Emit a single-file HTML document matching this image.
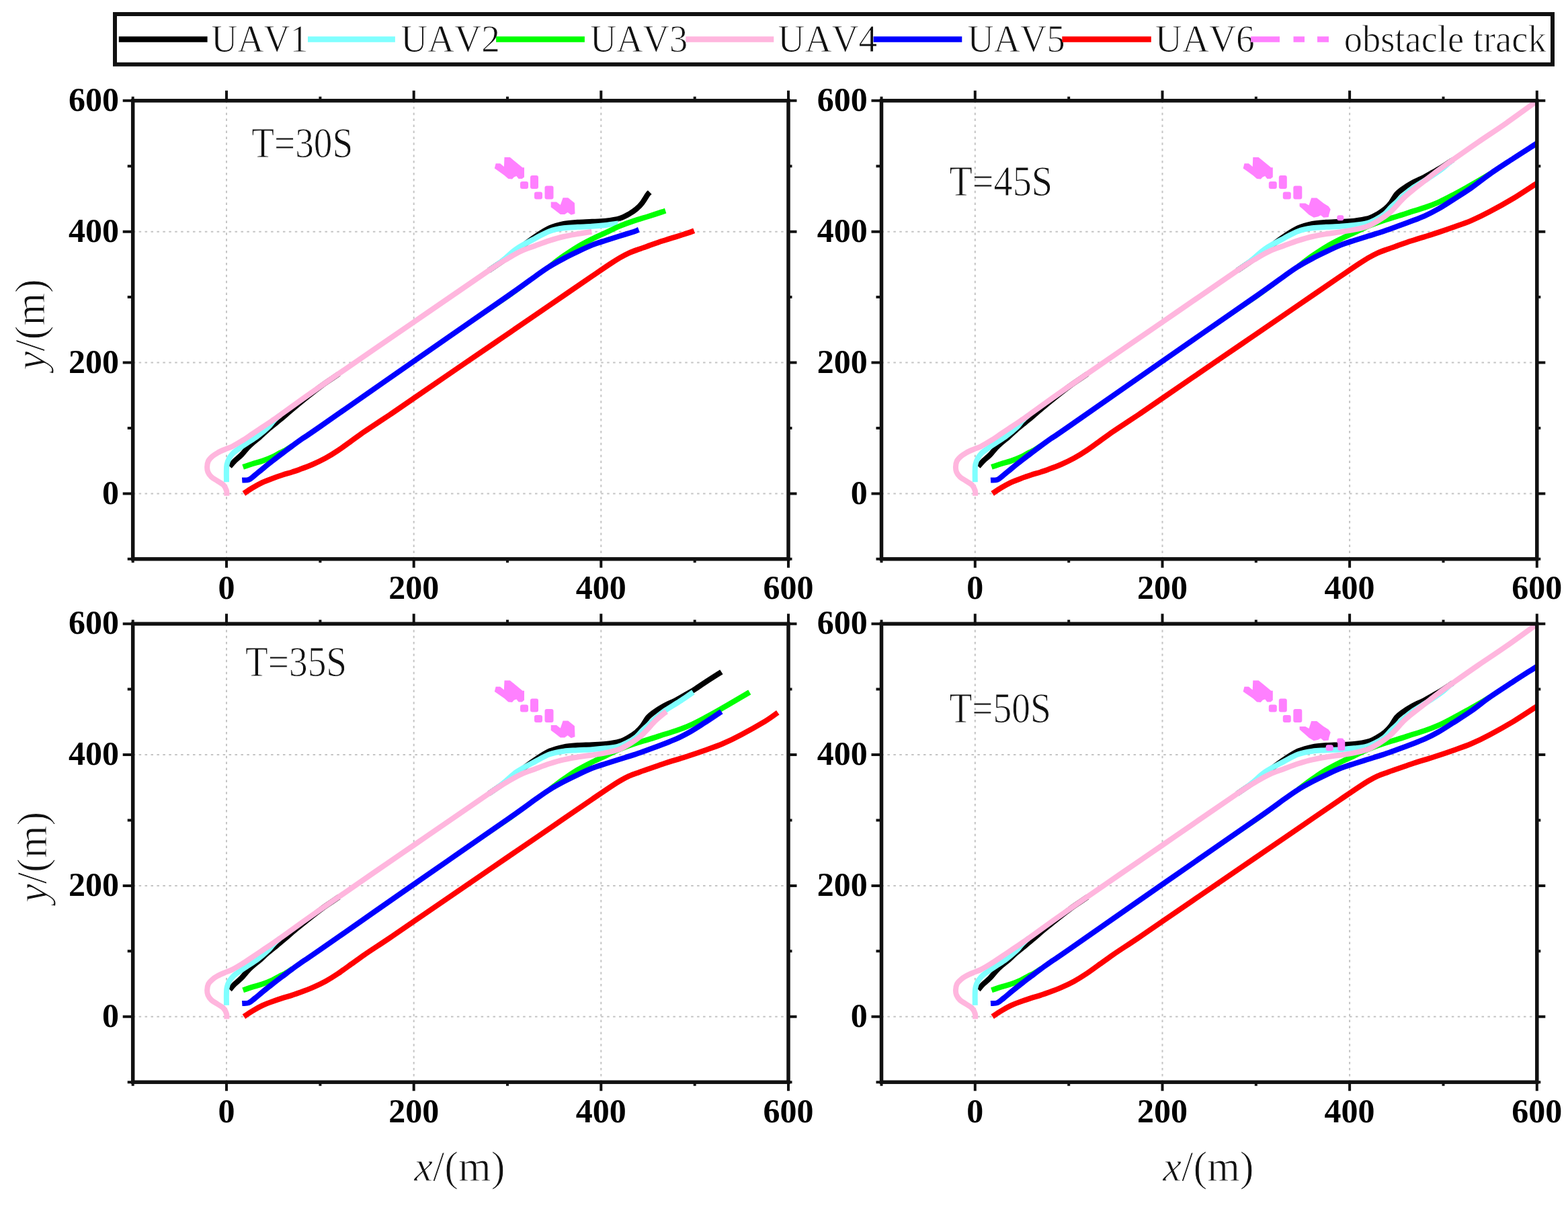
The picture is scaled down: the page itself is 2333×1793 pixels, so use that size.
<!DOCTYPE html>
<html><head><meta charset="utf-8"><title>UAV trajectories</title><style>
html,body{margin:0;padding:0;background:#fff;}
svg{display:block;}
text{font-family:"Liberation Serif","Times New Roman",serif;fill:#000;font-kerning:none;}
.tl{font-size:50px;font-weight:bold;}
.lg{font-size:57px;fill:#111;stroke:#fff;stroke-width:1.0px;}
.tt{font-size:64px;fill:#111;stroke:#fff;stroke-width:1.0px;}
.at{font-size:62.5px;fill:#111;stroke:#fff;stroke-width:1.0px;}
</style></head><body>
<svg width="2333" height="1793" viewBox="0 0 2333 1793">
<defs><clipPath id="clip"><rect x="0" y="0" width="975.3" height="682.0"/></clipPath></defs>
<rect width="2333" height="1793" fill="#ffffff"/>
<rect x="171" y="21" width="2139" height="74.8" fill="none" stroke="#111111" stroke-width="6"/>
<line x1="176.8" y1="58.5" x2="308.6" y2="58.5" stroke="#000000" stroke-width="8.5"/>
<text x="314.3" y="77.4" class="lg" textLength="144.3" lengthAdjust="spacingAndGlyphs">UAV1</text>
<line x1="458.0" y1="58.5" x2="587.9" y2="58.5" stroke="#80ffff" stroke-width="8.5"/>
<text x="596.3" y="77.4" class="lg" textLength="147.5" lengthAdjust="spacingAndGlyphs">UAV2</text>
<line x1="738.1" y1="58.5" x2="869.9" y2="58.5" stroke="#00ff00" stroke-width="8.5"/>
<text x="878.0" y="77.4" class="lg" textLength="145.1" lengthAdjust="spacingAndGlyphs">UAV3</text>
<line x1="1020.3" y1="58.5" x2="1151.3" y2="58.5" stroke="#ffb6de" stroke-width="8.5"/>
<text x="1157.3" y="77.4" class="lg" textLength="148.1" lengthAdjust="spacingAndGlyphs">UAV4</text>
<line x1="1299.6" y1="58.5" x2="1431.3" y2="58.5" stroke="#0000ff" stroke-width="8.5"/>
<text x="1439.5" y="77.4" class="lg" textLength="145.1" lengthAdjust="spacingAndGlyphs">UAV5</text>
<line x1="1580.3" y1="58.5" x2="1712.8" y2="58.5" stroke="#ff0000" stroke-width="8.5"/>
<text x="1718.8" y="77.4" class="lg" textLength="148.1" lengthAdjust="spacingAndGlyphs">UAV6</text>
<line x1="1861.0" y1="58.5" x2="1904.0" y2="58.5" stroke="#ff80ff" stroke-width="8.5"/>
<line x1="1924.5" y1="58.5" x2="1941.0" y2="58.5" stroke="#ff80ff" stroke-width="8.5"/>
<line x1="1960.0" y1="58.5" x2="1977.0" y2="58.5" stroke="#ff80ff" stroke-width="8.5"/>
<text x="1999.7" y="76.6" class="lg" textLength="301.0" lengthAdjust="spacingAndGlyphs">obstacle track</text>
<g transform="translate(197.7,149.8)">
<line x1="139.3" y1="0" x2="139.3" y2="682.0" stroke="#c4c4c4" stroke-width="2" stroke-dasharray="3.5 5.43"/>
<line x1="0" y1="584.6" x2="975.3" y2="584.6" stroke="#c4c4c4" stroke-width="2" stroke-dasharray="3.5 5.43"/>
<line x1="418.0" y1="0" x2="418.0" y2="682.0" stroke="#c4c4c4" stroke-width="2" stroke-dasharray="3.5 5.43"/>
<line x1="0" y1="389.7" x2="975.3" y2="389.7" stroke="#c4c4c4" stroke-width="2" stroke-dasharray="3.5 5.43"/>
<line x1="696.6" y1="0" x2="696.6" y2="682.0" stroke="#c4c4c4" stroke-width="2" stroke-dasharray="3.5 5.43"/>
<line x1="0" y1="194.9" x2="975.3" y2="194.9" stroke="#c4c4c4" stroke-width="2" stroke-dasharray="3.5 5.43"/>
<g clip-path="url(#clip)" fill="none" stroke-width="8" stroke-linejoin="round" stroke-linecap="butt">
<path d="M144.1,544.3 C145.3,543.0 148.3,539.2 151.2,536.3 C154.1,533.5 158.3,530.4 161.5,527.1 C164.7,523.8 167.7,519.6 170.4,516.7 C173.1,513.7 174.7,512.3 177.8,509.6 C180.9,506.8 185.3,503.5 189.1,500.3 C192.8,497.0 195.9,493.8 200.2,490.1 C204.6,486.3 210.9,481.4 215.1,477.9 C219.4,474.4 220.9,473.2 225.7,469.1 C230.5,465.1 235.0,460.7 243.8,453.5 C252.6,446.3 267.9,433.8 278.4,426.0 C288.8,418.1 283.3,422.5 306.5,406.4" stroke="#000000"/>
<path d="M306.5,406.4 C329.8,390.3 380.8,355.0 418.0,329.4 C455.1,303.8 506.1,268.9 529.4,252.8" stroke="#000000" stroke-width="5"/>
<path d="M529.4,252.8 C552.8,236.7 550.2,238.8 558.3,232.9 C566.4,226.9 571.4,222.4 578.2,217.3 C585.0,212.1 592.1,206.6 599.1,202.0 C606.1,197.3 613.1,192.5 620.2,189.3 C627.2,186.2 634.2,184.5 641.2,183.1 C648.1,181.7 654.8,181.4 661.8,180.9 C668.8,180.4 676.3,180.4 683.3,180.0 C690.2,179.7 696.8,179.6 703.6,178.8 C710.4,178.0 718.4,176.9 724.2,175.2 C730.0,173.5 734.2,171.0 738.4,168.6 C742.7,166.1 746.3,163.5 749.6,160.8 C752.8,158.0 755.2,155.6 757.9,152.0 C760.7,148.4 764.3,141.9 766.2,139.3 C768.0,136.7 768.6,136.9 769.1,136.4" stroke="#000000"/>
<path d="M139.3,567.5 C139.3,565.0 139.1,556.8 139.2,552.4 C139.3,548.0 139.1,544.7 139.9,541.2 C140.6,537.7 142.0,534.4 143.6,531.6 C145.3,528.7 146.9,526.6 149.5,524.1 C152.1,521.6 155.8,519.1 159.3,516.7 C162.7,514.2 166.1,512.1 170.4,509.2 C174.7,506.3 180.0,503.3 185.3,499.3 C190.6,495.3 196.5,490.4 202.0,485.2 C207.6,480.0 206.0,478.1 218.7,468.1" stroke="#80ffff"/>
<path d="M218.7,468.1 C231.5,458.2 245.2,448.7 278.4,425.6 C311.6,402.4 376.1,358.2 418.0,329.4 C459.8,300.6 507.4,268.1 529.4,252.8" stroke="#80ffff" stroke-width="5"/>
<path d="M529.4,252.8 C551.5,237.5 543.4,243.2 550.3,237.7 C557.3,232.3 563.1,225.7 571.2,220.2 C579.4,214.7 591.0,209.0 599.1,204.7 C607.3,200.3 613.1,196.6 620.2,194.1 C627.2,191.5 634.2,190.5 641.2,189.5 C648.1,188.5 654.8,188.5 661.8,188.0 C668.8,187.6 676.3,187.5 683.3,187.0 C690.2,186.5 697.3,185.8 703.6,185.1 C709.9,184.4 718.1,183.1 721.2,182.7 C724.2,182.3 721.6,182.6 721.7,182.6" stroke="#80ffff"/>
<path d="M163.9,545.1 C166.2,544.3 173.0,541.9 177.8,540.4 C182.6,538.9 187.7,537.8 192.7,536.1 C197.7,534.3 203.3,532.1 207.6,530.1 C211.9,528.1 215.7,525.6 218.7,524.1 C221.8,522.5 222.6,522.5 225.7,520.8 C228.8,519.0 233.0,516.5 237.4,513.4" stroke="#00ff00"/>
<path d="M237.4,513.4 C241.9,510.4 245.5,507.5 252.3,502.7 C259.2,498.0 250.8,504.3 278.4,485.1 C306.0,465.9 371.3,419.8 418.0,387.7 C464.6,355.5 528.1,313.3 558.3,292.3 C588.5,271.2 588.8,268.9 599.1,261.3 C609.4,253.7 615.0,250.3 620.2,246.6" stroke="#00ff00" stroke-width="5"/>
<path d="M620.2,246.6 C625.3,242.9 626.3,241.8 629.8,239.2 C633.3,236.6 635.8,234.5 641.2,230.8 C646.5,227.2 654.8,221.4 661.8,217.3 C668.8,213.1 676.3,209.3 683.3,205.8 C690.2,202.3 696.7,199.5 703.6,196.3 C710.5,193.1 717.5,189.5 724.5,186.6 C731.5,183.7 738.5,181.1 745.4,178.8 C752.4,176.4 759.2,174.6 766.2,172.4 C773.1,170.3 782.8,167.1 787.2,165.6 C791.6,164.2 791.5,164.0 792.4,163.7" stroke="#00ff00"/>
<path d="M139.6,588.0 C139.6,586.7 140.1,582.9 139.3,580.2 C138.5,577.5 137.0,574.2 134.7,571.8 C132.5,569.4 128.8,567.8 125.8,565.8 C122.8,563.8 119.1,562.0 116.8,559.8 C114.4,557.6 112.6,554.9 111.6,552.4 C110.6,549.9 110.4,547.6 110.5,544.9 C110.6,542.2 111.0,538.7 112.3,536.1 C113.6,533.5 116.0,531.3 118.3,529.3 C120.5,527.3 122.7,525.8 125.8,524.1 C128.9,522.3 133.2,520.5 137.0,518.9 C140.7,517.3 143.8,516.6 148.1,514.4 C152.4,512.2 158.1,508.7 163.0,505.7 C168.0,502.6 172.8,499.2 177.8,495.9 C182.7,492.6 187.7,489.2 192.7,485.9 C197.7,482.5 203.3,478.9 207.6,475.9 C211.9,473.0 206.9,476.5 218.7,468.1 C230.5,459.7 245.2,448.7 278.4,425.6 C311.6,402.4 376.1,358.2 418.0,329.4 C459.8,300.6 506.1,268.6 529.4,252.8 C552.8,237.0 550.2,239.4 558.3,234.5 C566.4,229.6 571.4,226.7 578.2,223.6 C585.0,220.5 592.1,218.3 599.1,215.7 C606.1,213.1 613.1,210.4 620.2,208.1 C627.2,205.9 634.2,203.8 641.2,202.2 C648.1,200.5 654.9,199.5 661.8,198.3 C668.7,197.0 679.2,195.4 682.7,194.9" stroke="#ffb6de"/>
<path d="M162.5,564.7 C164.2,564.6 169.4,565.2 172.6,563.9 C175.8,562.7 178.2,559.9 181.5,557.3 C184.9,554.6 188.3,551.6 192.7,548.0 C197.0,544.5 202.6,539.9 207.6,536.1 C212.6,532.2 217.5,528.4 222.5,524.7 C227.5,520.9 232.4,517.1 237.4,513.4 C242.4,509.8 245.5,507.5 252.3,502.7 C259.2,498.0 250.8,504.3 278.4,485.1 C306.0,465.9 371.3,420.1 418.0,387.7 C464.6,355.2 528.1,311.4 558.3,290.3 C588.5,269.2 588.8,268.4 599.1,261.1 C609.4,253.8 613.1,251.0 620.2,246.6 C627.2,242.2 634.2,238.5 641.2,234.8 C648.1,231.1 654.8,227.9 661.8,224.6 C668.8,221.2 676.3,217.6 683.3,214.8 C690.2,212.1 696.8,210.2 703.6,208.0 C710.4,205.8 717.3,203.7 724.2,201.5 C731.2,199.3 740.7,196.4 745.4,194.9 C750.1,193.3 751.4,192.4 752.7,191.9" stroke="#0000ff"/>
<path d="M165.2,584.5 C167.3,583.1 173.2,578.9 177.8,576.2 C182.4,573.4 187.7,570.4 192.7,568.0 C197.7,565.7 202.6,563.9 207.6,562.1 C212.6,560.2 217.5,558.5 222.5,556.9 C227.5,555.3 233.1,553.8 237.4,552.4 C241.7,551.0 243.4,550.5 248.4,548.6 C253.4,546.8 261.2,544.0 267.5,541.2 C273.9,538.4 280.1,535.5 286.5,532.0 C292.8,528.5 299.2,524.5 305.5,520.3 C311.9,516.0 318.3,511.2 324.6,506.6 C331.0,502.1 337.4,497.4 343.7,493.0 C350.1,488.6 356.3,484.5 362.7,480.3 C369.0,476.1 372.5,473.9 381.8,467.7 C391.0,461.4 398.0,456.5 418.0,442.8 C438.0,429.1 478.4,401.4 501.6,385.5 C524.8,369.6 537.6,360.9 557.3,347.4 C577.1,333.9 599.1,318.8 620.0,304.5 C640.9,290.1 667.6,271.8 682.7,261.5 C697.8,251.2 703.6,247.2 710.6,242.6 C717.5,238.0 719.9,236.5 724.5,233.8 C729.2,231.1 733.8,228.6 738.4,226.5 C743.1,224.4 747.7,222.9 752.4,221.2 C757.0,219.5 760.5,218.3 766.3,216.3 C772.1,214.3 780.2,211.3 787.2,209.0 C794.2,206.7 801.1,204.6 808.1,202.5 C815.1,200.3 824.5,197.3 829.0,195.8 C833.5,194.3 834.0,193.8 835.0,193.4" stroke="#ff0000"/>
</g>
<polygon points="540.0,93.5 546.4,93.5 552.2,98.3 552.8,84.2 561.1,84.2 579.7,99.5 582.3,99.5 582.3,113.6 579.1,116.2 573.9,116.2 570.7,112.3 567.2,113.6 564.3,116.8 558.6,116.2 552.8,111.1 543.8,104.7 538.1,100.8" fill="#ff80ff"/>
<rect x="576.3" y="120.3" width="12.0" height="11.0" rx="3" fill="#ff80ff"/>
<rect x="591.3" y="111.2" width="12.0" height="20.0" rx="3" fill="#ff80ff"/>
<rect x="597.3" y="135.7" width="12.0" height="11.0" rx="3" fill="#ff80ff"/>
<rect x="612.8" y="126.7" width="13.0" height="20.0" rx="3" fill="#ff80ff"/>
<polygon points="622.0,150.8 630.3,150.8 636.1,155.3 639.9,144.4 647.6,144.4 657.2,152.1 657.8,168.1 652.1,170.0 646.9,166.1 642.5,169.3 636.1,169.3 627.1,162.3 622.0,158.5" fill="#ff80ff"/>
<path d="M0.0,0 V-6.0 M0.0,682.0 V687.5 M0,682.0 H-8.0 M975.3,682.0 H980.8 M139.3,0 V-15.0 M139.3,682.0 V695.0 M0,584.6 H-15.0 M975.3,584.6 H987.8 M278.7,0 V-6.0 M278.7,682.0 V687.5 M0,487.1 H-8.0 M975.3,487.1 H980.8 M418.0,0 V-15.0 M418.0,682.0 V695.0 M0,389.7 H-15.0 M975.3,389.7 H987.8 M557.3,0 V-6.0 M557.3,682.0 V687.5 M0,292.3 H-8.0 M975.3,292.3 H980.8 M696.6,0 V-15.0 M696.6,682.0 V695.0 M0,194.9 H-15.0 M975.3,194.9 H987.8 M836.0,0 V-6.0 M836.0,682.0 V687.5 M0,97.4 H-8.0 M975.3,97.4 H980.8 M975.3,0 V-15.0 M975.3,682.0 V695.0 M0,0.0 H-15.0 M975.3,0.0 H987.8" stroke="#111111" stroke-width="4.0" fill="none"/>
<rect x="0" y="0" width="975.3" height="682.0" fill="none" stroke="#111111" stroke-width="5.5"/>
<text x="139.3" y="741.5" text-anchor="middle" class="tl">0</text>
<text x="418.0" y="741.5" text-anchor="middle" class="tl">200</text>
<text x="696.6" y="741.5" text-anchor="middle" class="tl">400</text>
<text x="975.3" y="741.5" text-anchor="middle" class="tl">600</text>
<text x="-20.7" y="599.8" text-anchor="end" class="tl">0</text>
<text x="-20.7" y="404.9" text-anchor="end" class="tl">200</text>
<text x="-20.7" y="210.1" text-anchor="end" class="tl">400</text>
<text x="-20.7" y="15.2" text-anchor="end" class="tl">600</text>
</g>
<text x="374.3" y="233.6" class="tt" textLength="150.9" lengthAdjust="spacingAndGlyphs">T=30S</text>
<g transform="translate(1311.5,149.8)">
<line x1="139.3" y1="0" x2="139.3" y2="682.0" stroke="#c4c4c4" stroke-width="2" stroke-dasharray="3.5 5.43"/>
<line x1="0" y1="584.6" x2="975.3" y2="584.6" stroke="#c4c4c4" stroke-width="2" stroke-dasharray="3.5 5.43"/>
<line x1="418.0" y1="0" x2="418.0" y2="682.0" stroke="#c4c4c4" stroke-width="2" stroke-dasharray="3.5 5.43"/>
<line x1="0" y1="389.7" x2="975.3" y2="389.7" stroke="#c4c4c4" stroke-width="2" stroke-dasharray="3.5 5.43"/>
<line x1="696.6" y1="0" x2="696.6" y2="682.0" stroke="#c4c4c4" stroke-width="2" stroke-dasharray="3.5 5.43"/>
<line x1="0" y1="194.9" x2="975.3" y2="194.9" stroke="#c4c4c4" stroke-width="2" stroke-dasharray="3.5 5.43"/>
<g clip-path="url(#clip)" fill="none" stroke-width="8" stroke-linejoin="round" stroke-linecap="butt">
<path d="M144.1,544.3 C145.3,543.0 148.3,539.2 151.2,536.3 C154.1,533.5 158.3,530.4 161.5,527.1 C164.7,523.8 167.7,519.6 170.4,516.7 C173.1,513.7 174.7,512.3 177.8,509.6 C180.9,506.8 185.3,503.5 189.1,500.3 C192.8,497.0 195.9,493.8 200.2,490.1 C204.6,486.3 210.9,481.4 215.1,477.9 C219.4,474.4 220.9,473.2 225.7,469.1 C230.5,465.1 235.0,460.7 243.8,453.5 C252.6,446.3 267.9,433.8 278.4,426.0 C288.8,418.1 283.3,422.5 306.5,406.4" stroke="#000000"/>
<path d="M306.5,406.4 C329.8,390.3 380.8,355.0 418.0,329.4 C455.1,303.8 506.1,268.9 529.4,252.8" stroke="#000000" stroke-width="5"/>
<path d="M529.4,252.8 C552.8,236.7 550.2,238.8 558.3,232.9 C566.4,226.9 571.4,222.4 578.2,217.3 C585.0,212.1 592.1,206.6 599.1,202.0 C606.1,197.3 613.1,192.5 620.2,189.3 C627.2,186.2 634.2,184.5 641.2,183.1 C648.1,181.7 654.8,181.4 661.8,180.9 C668.8,180.4 676.3,180.4 683.3,180.0 C690.2,179.7 696.8,179.6 703.6,178.8 C710.4,178.0 718.4,176.9 724.2,175.2 C730.0,173.5 734.2,171.0 738.4,168.6 C742.7,166.1 746.3,163.5 749.6,160.8 C752.8,158.0 755.2,155.6 757.9,152.0 C760.7,148.4 763.4,142.7 766.2,139.3 C769.0,136.0 770.7,134.9 774.7,132.0 C778.6,129.2 784.4,125.4 790.0,122.3 C795.6,119.2 802.9,116.2 808.1,113.5 C813.3,110.8 816.3,108.9 821.1,106.2 C825.8,103.5 831.7,100.2 836.5,97.1 C841.4,94.1 841.7,93.8 850.3,87.9" stroke="#000000"/>
<path d="M850.3,87.9 C858.9,81.9 874.9,70.5 888.2,61.4 C901.5,52.3 915.5,43.3 930.0,33.1 C944.5,23.0 966.4,6.9 975.3,0.5 C984.2,-5.9 982.3,-4.4 983.7,-5.4" stroke="#000000" stroke-width="5"/>
<path d="M139.3,567.5 C139.3,565.0 139.1,556.8 139.2,552.4 C139.3,548.0 139.1,544.7 139.9,541.2 C140.6,537.7 142.0,534.4 143.6,531.6 C145.3,528.7 146.9,526.6 149.5,524.1 C152.1,521.6 155.8,519.1 159.3,516.7 C162.7,514.2 166.1,512.1 170.4,509.2 C174.7,506.3 180.0,503.3 185.3,499.3 C190.6,495.3 196.5,490.4 202.0,485.2 C207.6,480.0 206.0,478.1 218.7,468.1" stroke="#80ffff"/>
<path d="M218.7,468.1 C231.5,458.2 245.2,448.7 278.4,425.6 C311.6,402.4 376.1,358.2 418.0,329.4 C459.8,300.6 507.4,268.1 529.4,252.8" stroke="#80ffff" stroke-width="5"/>
<path d="M529.4,252.8 C551.5,237.5 543.4,243.2 550.3,237.7 C557.3,232.3 563.1,225.7 571.2,220.2 C579.4,214.7 591.0,209.0 599.1,204.7 C607.3,200.3 613.1,196.6 620.2,194.1 C627.2,191.5 634.2,190.5 641.2,189.5 C648.1,188.5 654.8,188.5 661.8,188.0 C668.8,187.6 676.3,187.5 683.3,187.0 C690.2,186.5 697.3,185.8 703.6,185.1 C709.9,184.4 716.0,184.0 721.2,182.7 C726.4,181.4 730.2,179.6 734.8,177.2 C739.4,174.9 744.8,171.6 748.6,168.6 C752.5,165.5 755.0,161.7 757.9,158.8 C760.9,155.9 762.9,154.2 766.2,151.1 C769.4,148.0 773.4,143.8 777.5,140.3 C781.5,136.8 784.3,134.2 790.3,130.1 C796.3,125.9 806.3,120.2 813.5,115.5 C820.8,110.7 827.6,106.4 833.7,101.8 C839.9,97.2 841.2,94.6 850.3,87.9" stroke="#80ffff"/>
<path d="M850.3,87.9 C859.4,81.1 874.9,70.5 888.2,61.4 C901.5,52.3 915.5,43.3 930.0,33.1 C944.5,23.0 966.4,6.9 975.3,0.5 C984.2,-5.9 982.3,-4.4 983.7,-5.4" stroke="#80ffff" stroke-width="5"/>
<path d="M163.9,545.1 C166.2,544.3 173.0,541.9 177.8,540.4 C182.6,538.9 187.7,537.8 192.7,536.1 C197.7,534.3 203.3,532.1 207.6,530.1 C211.9,528.1 215.7,525.6 218.7,524.1 C221.8,522.5 222.6,522.5 225.7,520.8 C228.8,519.0 233.0,516.5 237.4,513.4" stroke="#00ff00"/>
<path d="M237.4,513.4 C241.9,510.4 245.5,507.5 252.3,502.7 C259.2,498.0 250.8,504.3 278.4,485.1 C306.0,465.9 371.3,419.8 418.0,387.7 C464.6,355.5 528.1,313.3 558.3,292.3 C588.5,271.2 588.8,268.9 599.1,261.3 C609.4,253.7 615.0,250.3 620.2,246.6" stroke="#00ff00" stroke-width="5"/>
<path d="M620.2,246.6 C625.3,242.9 626.3,241.8 629.8,239.2 C633.3,236.6 635.8,234.5 641.2,230.8 C646.5,227.2 654.8,221.4 661.8,217.3 C668.8,213.1 676.3,209.3 683.3,205.8 C690.2,202.3 696.7,199.5 703.6,196.3 C710.5,193.1 717.5,189.5 724.5,186.6 C731.5,183.7 738.5,181.1 745.4,178.8 C752.4,176.4 759.2,174.6 766.2,172.4 C773.1,170.3 780.2,167.9 787.2,165.6 C794.2,163.4 801.1,161.5 808.1,159.1 C815.1,156.7 822.0,154.1 829.0,151.0 C836.0,147.9 843.4,144.0 850.3,140.3 C857.3,136.6 861.7,134.3 870.8,129.1 C880.0,123.9 893.6,116.3 905.2,109.1" stroke="#00ff00"/>
<path d="M905.2,109.1 C916.8,101.9 928.8,93.4 940.5,85.7 C952.1,78.1 968.1,68.0 975.3,63.3 C982.5,58.7 982.3,58.9 983.7,58.0" stroke="#00ff00" stroke-width="5"/>
<path d="M139.6,588.0 C139.6,586.7 140.1,582.9 139.3,580.2 C138.5,577.5 137.0,574.2 134.7,571.8 C132.5,569.4 128.8,567.8 125.8,565.8 C122.8,563.8 119.1,562.0 116.8,559.8 C114.4,557.6 112.6,554.9 111.6,552.4 C110.6,549.9 110.4,547.6 110.5,544.9 C110.6,542.2 111.0,538.7 112.3,536.1 C113.6,533.5 116.0,531.3 118.3,529.3 C120.5,527.3 122.7,525.8 125.8,524.1 C128.9,522.3 133.2,520.5 137.0,518.9 C140.7,517.3 143.8,516.6 148.1,514.4 C152.4,512.2 158.1,508.7 163.0,505.7 C168.0,502.6 172.8,499.2 177.8,495.9 C182.7,492.6 187.7,489.2 192.7,485.9 C197.7,482.5 203.3,478.9 207.6,475.9 C211.9,473.0 206.9,476.5 218.7,468.1 C230.5,459.7 245.2,448.7 278.4,425.6 C311.6,402.4 376.1,358.2 418.0,329.4 C459.8,300.6 506.1,268.6 529.4,252.8 C552.8,237.0 550.2,239.4 558.3,234.5 C566.4,229.6 571.4,226.7 578.2,223.6 C585.0,220.5 592.1,218.3 599.1,215.7 C606.1,213.1 613.1,210.4 620.2,208.1 C627.2,205.9 634.2,203.8 641.2,202.2 C648.1,200.5 654.8,199.4 661.8,198.3 C668.8,197.1 676.3,196.4 683.3,195.3 C690.2,194.3 696.8,193.4 703.6,191.9 C710.4,190.5 718.0,188.9 724.2,186.5 C730.5,184.0 736.1,180.5 741.2,177.3 C746.4,174.2 751.0,171.1 755.2,167.6 C759.3,164.1 762.5,160.4 766.2,156.5 C769.9,152.6 773.5,148.0 777.5,144.2 C781.4,140.4 784.9,137.6 790.0,133.5 C795.1,129.3 801.6,124.4 808.1,119.4 C814.6,114.3 821.8,108.5 828.9,103.3 C835.9,98.0 840.4,94.9 850.3,87.9 C860.2,80.9 874.9,70.5 888.2,61.4 C901.5,52.3 915.5,43.3 930.0,33.1 C944.5,23.0 966.4,6.9 975.3,0.5 C984.2,-5.9 982.3,-4.4 983.7,-5.4" stroke="#ffb6de"/>
<path d="M162.5,564.7 C164.2,564.6 169.4,565.2 172.6,563.9 C175.8,562.7 178.2,559.9 181.5,557.3 C184.9,554.6 188.3,551.6 192.7,548.0 C197.0,544.5 202.6,539.9 207.6,536.1 C212.6,532.2 217.5,528.4 222.5,524.7 C227.5,520.9 232.4,517.1 237.4,513.4 C242.4,509.8 245.5,507.5 252.3,502.7 C259.2,498.0 250.8,504.3 278.4,485.1 C306.0,465.9 371.3,420.1 418.0,387.7 C464.6,355.2 528.1,311.4 558.3,290.3 C588.5,269.2 588.8,268.4 599.1,261.1 C609.4,253.8 613.1,251.0 620.2,246.6 C627.2,242.2 634.2,238.5 641.2,234.8 C648.1,231.1 654.8,227.9 661.8,224.6 C668.8,221.2 676.3,217.6 683.3,214.8 C690.2,212.1 696.8,210.2 703.6,208.0 C710.4,205.8 717.3,203.7 724.2,201.5 C731.2,199.3 738.4,197.2 745.4,194.9 C752.4,192.5 759.2,190.0 766.2,187.5 C773.1,184.9 780.2,182.4 787.2,179.8 C794.2,177.1 801.1,174.6 808.1,171.5 C815.1,168.3 822.0,164.8 829.0,160.8 C836.0,156.8 842.2,152.7 850.3,147.5 C858.4,142.3 868.6,136.0 877.8,129.6 C886.9,123.2 894.8,116.4 905.2,109.1 C915.7,101.8 928.8,93.4 940.5,85.7 C952.1,78.1 968.1,68.0 975.3,63.3 C982.5,58.7 982.3,58.9 983.7,58.0" stroke="#0000ff"/>
<path d="M165.2,584.5 C167.3,583.1 173.2,578.9 177.8,576.2 C182.4,573.4 187.7,570.4 192.7,568.0 C197.7,565.7 202.6,563.9 207.6,562.1 C212.6,560.2 217.5,558.5 222.5,556.9 C227.5,555.3 233.1,553.8 237.4,552.4 C241.7,551.0 243.4,550.5 248.4,548.6 C253.4,546.8 261.2,544.0 267.5,541.2 C273.9,538.4 280.1,535.5 286.5,532.0 C292.8,528.5 299.2,524.5 305.5,520.3 C311.9,516.0 318.3,511.2 324.6,506.6 C331.0,502.1 337.4,497.4 343.7,493.0 C350.1,488.6 356.3,484.5 362.7,480.3 C369.0,476.1 372.5,473.9 381.8,467.7 C391.0,461.4 398.0,456.5 418.0,442.8 C438.0,429.1 478.4,401.4 501.6,385.5 C524.8,369.6 537.6,360.9 557.3,347.4 C577.1,333.9 599.1,318.8 620.0,304.5 C640.9,290.1 667.6,271.8 682.7,261.5 C697.8,251.2 703.6,247.2 710.6,242.6 C717.5,238.0 719.9,236.5 724.5,233.8 C729.2,231.1 733.8,228.6 738.4,226.5 C743.1,224.4 747.7,222.9 752.4,221.2 C757.0,219.5 760.5,218.3 766.3,216.3 C772.1,214.3 780.2,211.3 787.2,209.0 C794.2,206.7 801.1,204.6 808.1,202.5 C815.1,200.3 822.0,198.2 829.0,195.8 C836.0,193.5 842.2,191.4 850.3,188.5 C858.4,185.6 868.6,182.2 877.8,178.3 C886.9,174.4 894.8,170.6 905.2,165.0 C915.7,159.5 928.8,152.2 940.5,145.2 C952.1,138.1 968.1,127.3 975.3,122.8 C982.5,118.2 982.3,118.7 983.7,117.9" stroke="#ff0000"/>
</g>
<polygon points="540.0,93.5 546.4,93.5 552.2,98.3 552.8,84.2 561.1,84.2 579.7,99.5 582.3,99.5 582.3,113.6 579.1,116.2 573.9,116.2 570.7,112.3 567.2,113.6 564.3,116.8 558.6,116.2 552.8,111.1 543.8,104.7 538.1,100.8" fill="#ff80ff"/>
<rect x="576.3" y="120.3" width="12.0" height="11.0" rx="3" fill="#ff80ff"/>
<rect x="591.3" y="111.2" width="12.0" height="20.0" rx="3" fill="#ff80ff"/>
<rect x="597.3" y="135.7" width="12.0" height="11.0" rx="3" fill="#ff80ff"/>
<rect x="612.8" y="126.7" width="13.0" height="20.0" rx="3" fill="#ff80ff"/>
<polygon points="622.1,152.8 630.8,152.8 636.0,155.7 639.6,144.7 647.7,144.7 657.9,152.8 665.2,157.2 668.2,161.6 666.0,168.9 665.2,173.3 657.9,174.0 653.5,170.4 649.9,172.5 643.3,174.0 636.0,169.6 628.7,163.0 622.1,157.2" fill="#ff80ff"/>
<rect x="677.8" y="170.4" width="10.0" height="8.0" rx="3" fill="#ff80ff"/>
<path d="M0.0,0 V-6.0 M0.0,682.0 V687.5 M0,682.0 H-8.0 M975.3,682.0 H980.8 M139.3,0 V-15.0 M139.3,682.0 V695.0 M0,584.6 H-15.0 M975.3,584.6 H987.8 M278.7,0 V-6.0 M278.7,682.0 V687.5 M0,487.1 H-8.0 M975.3,487.1 H980.8 M418.0,0 V-15.0 M418.0,682.0 V695.0 M0,389.7 H-15.0 M975.3,389.7 H987.8 M557.3,0 V-6.0 M557.3,682.0 V687.5 M0,292.3 H-8.0 M975.3,292.3 H980.8 M696.6,0 V-15.0 M696.6,682.0 V695.0 M0,194.9 H-15.0 M975.3,194.9 H987.8 M836.0,0 V-6.0 M836.0,682.0 V687.5 M0,97.4 H-8.0 M975.3,97.4 H980.8 M975.3,0 V-15.0 M975.3,682.0 V695.0 M0,0.0 H-15.0 M975.3,0.0 H987.8" stroke="#111111" stroke-width="4.0" fill="none"/>
<rect x="0" y="0" width="975.3" height="682.0" fill="none" stroke="#111111" stroke-width="5.5"/>
<text x="139.3" y="741.5" text-anchor="middle" class="tl">0</text>
<text x="418.0" y="741.5" text-anchor="middle" class="tl">200</text>
<text x="696.6" y="741.5" text-anchor="middle" class="tl">400</text>
<text x="975.3" y="741.5" text-anchor="middle" class="tl">600</text>
<text x="-20.7" y="599.8" text-anchor="end" class="tl">0</text>
<text x="-20.7" y="404.9" text-anchor="end" class="tl">200</text>
<text x="-20.7" y="210.1" text-anchor="end" class="tl">400</text>
<text x="-20.7" y="15.2" text-anchor="end" class="tl">600</text>
</g>
<text x="1412.4" y="290.8" class="tt" textLength="153.8" lengthAdjust="spacingAndGlyphs">T=45S</text>
<g transform="translate(197.7,928.2)">
<line x1="139.3" y1="0" x2="139.3" y2="682.0" stroke="#c4c4c4" stroke-width="2" stroke-dasharray="3.5 5.43"/>
<line x1="0" y1="584.6" x2="975.3" y2="584.6" stroke="#c4c4c4" stroke-width="2" stroke-dasharray="3.5 5.43"/>
<line x1="418.0" y1="0" x2="418.0" y2="682.0" stroke="#c4c4c4" stroke-width="2" stroke-dasharray="3.5 5.43"/>
<line x1="0" y1="389.7" x2="975.3" y2="389.7" stroke="#c4c4c4" stroke-width="2" stroke-dasharray="3.5 5.43"/>
<line x1="696.6" y1="0" x2="696.6" y2="682.0" stroke="#c4c4c4" stroke-width="2" stroke-dasharray="3.5 5.43"/>
<line x1="0" y1="194.9" x2="975.3" y2="194.9" stroke="#c4c4c4" stroke-width="2" stroke-dasharray="3.5 5.43"/>
<g clip-path="url(#clip)" fill="none" stroke-width="8" stroke-linejoin="round" stroke-linecap="butt">
<path d="M144.1,544.3 C145.3,543.0 148.3,539.2 151.2,536.3 C154.1,533.5 158.3,530.4 161.5,527.1 C164.7,523.8 167.7,519.6 170.4,516.7 C173.1,513.7 174.7,512.3 177.8,509.6 C180.9,506.8 185.3,503.5 189.1,500.3 C192.8,497.0 195.9,493.8 200.2,490.1 C204.6,486.3 210.9,481.4 215.1,477.9 C219.4,474.4 220.9,473.2 225.7,469.1 C230.5,465.1 235.0,460.7 243.8,453.5 C252.6,446.3 267.9,433.8 278.4,426.0 C288.8,418.1 283.3,422.5 306.5,406.4" stroke="#000000"/>
<path d="M306.5,406.4 C329.8,390.3 380.8,355.0 418.0,329.4 C455.1,303.8 506.1,268.9 529.4,252.8" stroke="#000000" stroke-width="5"/>
<path d="M529.4,252.8 C552.8,236.7 550.2,238.8 558.3,232.9 C566.4,226.9 571.4,222.4 578.2,217.3 C585.0,212.1 592.1,206.6 599.1,202.0 C606.1,197.3 613.1,192.5 620.2,189.3 C627.2,186.2 634.2,184.5 641.2,183.1 C648.1,181.7 654.8,181.4 661.8,180.9 C668.8,180.4 676.3,180.4 683.3,180.0 C690.2,179.7 696.8,179.6 703.6,178.8 C710.4,178.0 718.4,176.9 724.2,175.2 C730.0,173.5 734.2,171.0 738.4,168.6 C742.7,166.1 746.3,163.5 749.6,160.8 C752.8,158.0 755.2,155.6 757.9,152.0 C760.7,148.4 763.4,142.7 766.2,139.3 C769.0,136.0 770.7,134.9 774.7,132.0 C778.6,129.2 784.4,125.4 790.0,122.3 C795.6,119.2 802.9,116.2 808.1,113.5 C813.3,110.8 816.3,108.9 821.1,106.2 C825.8,103.5 831.7,100.2 836.5,97.1 C841.4,94.1 843.8,92.1 850.3,87.9 C856.8,83.6 871.5,74.3 875.7,71.6" stroke="#000000"/>
<path d="M139.3,567.5 C139.3,565.0 139.1,556.8 139.2,552.4 C139.3,548.0 139.1,544.7 139.9,541.2 C140.6,537.7 142.0,534.4 143.6,531.6 C145.3,528.7 146.9,526.6 149.5,524.1 C152.1,521.6 155.8,519.1 159.3,516.7 C162.7,514.2 166.1,512.1 170.4,509.2 C174.7,506.3 180.0,503.3 185.3,499.3 C190.6,495.3 196.5,490.4 202.0,485.2 C207.6,480.0 206.0,478.1 218.7,468.1" stroke="#80ffff"/>
<path d="M218.7,468.1 C231.5,458.2 245.2,448.7 278.4,425.6 C311.6,402.4 376.1,358.2 418.0,329.4 C459.8,300.6 507.4,268.1 529.4,252.8" stroke="#80ffff" stroke-width="5"/>
<path d="M529.4,252.8 C551.5,237.5 543.4,243.2 550.3,237.7 C557.3,232.3 563.1,225.7 571.2,220.2 C579.4,214.7 591.0,209.0 599.1,204.7 C607.3,200.3 613.1,196.6 620.2,194.1 C627.2,191.5 634.2,190.5 641.2,189.5 C648.1,188.5 654.8,188.5 661.8,188.0 C668.8,187.6 676.3,187.5 683.3,187.0 C690.2,186.5 697.3,185.8 703.6,185.1 C709.9,184.4 716.0,184.0 721.2,182.7 C726.4,181.4 730.2,179.6 734.8,177.2 C739.4,174.9 744.8,171.6 748.6,168.6 C752.5,165.5 755.0,161.7 757.9,158.8 C760.9,155.9 762.9,154.2 766.2,151.1 C769.4,148.0 773.4,143.8 777.5,140.3 C781.5,136.8 784.3,134.2 790.3,130.1 C796.3,125.9 806.3,120.2 813.5,115.5 C820.8,110.7 830.4,104.0 833.7,101.7" stroke="#80ffff"/>
<path d="M163.9,545.1 C166.2,544.3 173.0,541.9 177.8,540.4 C182.6,538.9 187.7,537.8 192.7,536.1 C197.7,534.3 203.3,532.1 207.6,530.1 C211.9,528.1 215.7,525.6 218.7,524.1 C221.8,522.5 222.6,522.5 225.7,520.8 C228.8,519.0 233.0,516.5 237.4,513.4" stroke="#00ff00"/>
<path d="M237.4,513.4 C241.9,510.4 245.5,507.5 252.3,502.7 C259.2,498.0 250.8,504.3 278.4,485.1 C306.0,465.9 371.3,419.8 418.0,387.7 C464.6,355.5 528.1,313.3 558.3,292.3 C588.5,271.2 588.8,268.9 599.1,261.3 C609.4,253.7 615.0,250.3 620.2,246.6" stroke="#00ff00" stroke-width="5"/>
<path d="M620.2,246.6 C625.3,242.9 626.3,241.8 629.8,239.2 C633.3,236.6 635.8,234.5 641.2,230.8 C646.5,227.2 654.8,221.4 661.8,217.3 C668.8,213.1 676.3,209.3 683.3,205.8 C690.2,202.3 696.7,199.5 703.6,196.3 C710.5,193.1 717.5,189.5 724.5,186.6 C731.5,183.7 738.5,181.1 745.4,178.8 C752.4,176.4 759.2,174.6 766.2,172.4 C773.1,170.3 780.2,167.9 787.2,165.6 C794.2,163.4 801.1,161.5 808.1,159.1 C815.1,156.7 822.0,154.1 829.0,151.0 C836.0,147.9 843.4,144.0 850.3,140.3 C857.3,136.6 861.7,134.3 870.8,129.1 C880.0,123.9 897.4,113.7 905.2,109.1 C913.0,104.6 915.6,103.0 917.6,101.8" stroke="#00ff00"/>
<path d="M139.6,588.0 C139.6,586.7 140.1,582.9 139.3,580.2 C138.5,577.5 137.0,574.2 134.7,571.8 C132.5,569.4 128.8,567.8 125.8,565.8 C122.8,563.8 119.1,562.0 116.8,559.8 C114.4,557.6 112.6,554.9 111.6,552.4 C110.6,549.9 110.4,547.6 110.5,544.9 C110.6,542.2 111.0,538.7 112.3,536.1 C113.6,533.5 116.0,531.3 118.3,529.3 C120.5,527.3 122.7,525.8 125.8,524.1 C128.9,522.3 133.2,520.5 137.0,518.9 C140.7,517.3 143.8,516.6 148.1,514.4 C152.4,512.2 158.1,508.7 163.0,505.7 C168.0,502.6 172.8,499.2 177.8,495.9 C182.7,492.6 187.7,489.2 192.7,485.9 C197.7,482.5 203.3,478.9 207.6,475.9 C211.9,473.0 206.9,476.5 218.7,468.1 C230.5,459.7 245.2,448.7 278.4,425.6 C311.6,402.4 376.1,358.2 418.0,329.4 C459.8,300.6 506.1,268.6 529.4,252.8 C552.8,237.0 550.2,239.4 558.3,234.5 C566.4,229.6 571.4,226.7 578.2,223.6 C585.0,220.5 592.1,218.3 599.1,215.7 C606.1,213.1 613.1,210.4 620.2,208.1 C627.2,205.9 634.2,203.8 641.2,202.2 C648.1,200.5 654.8,199.4 661.8,198.3 C668.8,197.1 676.3,196.4 683.3,195.3 C690.2,194.3 696.8,193.4 703.6,191.9 C710.4,190.5 718.0,188.9 724.2,186.5 C730.5,184.0 736.1,180.5 741.2,177.3 C746.4,174.2 751.0,171.1 755.2,167.6 C759.3,164.1 762.5,160.4 766.2,156.5 C769.9,152.6 773.5,148.0 777.5,144.2 C781.4,140.4 787.2,135.8 790.0,133.5 C792.8,131.2 793.4,131.0 794.0,130.6" stroke="#ffb6de"/>
<path d="M162.5,564.7 C164.2,564.6 169.4,565.2 172.6,563.9 C175.8,562.7 178.2,559.9 181.5,557.3 C184.9,554.6 188.3,551.6 192.7,548.0 C197.0,544.5 202.6,539.9 207.6,536.1 C212.6,532.2 217.5,528.4 222.5,524.7 C227.5,520.9 232.4,517.1 237.4,513.4 C242.4,509.8 245.5,507.5 252.3,502.7 C259.2,498.0 250.8,504.3 278.4,485.1 C306.0,465.9 371.3,420.1 418.0,387.7 C464.6,355.2 528.1,311.4 558.3,290.3 C588.5,269.2 588.8,268.4 599.1,261.1 C609.4,253.8 613.1,251.0 620.2,246.6 C627.2,242.2 634.2,238.5 641.2,234.8 C648.1,231.1 654.8,227.9 661.8,224.6 C668.8,221.2 676.3,217.6 683.3,214.8 C690.2,212.1 696.8,210.2 703.6,208.0 C710.4,205.8 717.3,203.7 724.2,201.5 C731.2,199.3 738.4,197.2 745.4,194.9 C752.4,192.5 759.2,190.0 766.2,187.5 C773.1,184.9 780.2,182.4 787.2,179.8 C794.2,177.1 801.1,174.6 808.1,171.5 C815.1,168.3 822.0,164.8 829.0,160.8 C836.0,156.8 842.5,152.5 850.3,147.5 C858.1,142.5 871.5,133.4 875.7,130.6" stroke="#0000ff"/>
<path d="M165.2,584.5 C167.3,583.1 173.2,578.9 177.8,576.2 C182.4,573.4 187.7,570.4 192.7,568.0 C197.7,565.7 202.6,563.9 207.6,562.1 C212.6,560.2 217.5,558.5 222.5,556.9 C227.5,555.3 233.1,553.8 237.4,552.4 C241.7,551.0 243.4,550.5 248.4,548.6 C253.4,546.8 261.2,544.0 267.5,541.2 C273.9,538.4 280.1,535.5 286.5,532.0 C292.8,528.5 299.2,524.5 305.5,520.3 C311.9,516.0 318.3,511.2 324.6,506.6 C331.0,502.1 337.4,497.4 343.7,493.0 C350.1,488.6 356.3,484.5 362.7,480.3 C369.0,476.1 372.5,473.9 381.8,467.7 C391.0,461.4 398.0,456.5 418.0,442.8 C438.0,429.1 478.4,401.4 501.6,385.5 C524.8,369.6 537.6,360.9 557.3,347.4 C577.1,333.9 599.1,318.8 620.0,304.5 C640.9,290.1 667.6,271.8 682.7,261.5 C697.8,251.2 703.6,247.2 710.6,242.6 C717.5,238.0 719.9,236.5 724.5,233.8 C729.2,231.1 733.8,228.6 738.4,226.5 C743.1,224.4 747.7,222.9 752.4,221.2 C757.0,219.5 760.5,218.3 766.3,216.3 C772.1,214.3 780.2,211.3 787.2,209.0 C794.2,206.7 801.1,204.6 808.1,202.5 C815.1,200.3 822.0,198.2 829.0,195.8 C836.0,193.5 842.2,191.4 850.3,188.5 C858.4,185.6 868.6,182.2 877.8,178.3 C886.9,174.4 894.8,170.6 905.2,165.0 C915.7,159.5 931.4,150.7 940.5,145.2 C949.5,139.7 956.4,134.2 959.6,132.0" stroke="#ff0000"/>
</g>
<polygon points="540.0,93.5 546.4,93.5 552.2,98.3 552.8,84.2 561.1,84.2 579.7,99.5 582.3,99.5 582.3,113.6 579.1,116.2 573.9,116.2 570.7,112.3 567.2,113.6 564.3,116.8 558.6,116.2 552.8,111.1 543.8,104.7 538.1,100.8" fill="#ff80ff"/>
<rect x="576.3" y="120.3" width="12.0" height="11.0" rx="3" fill="#ff80ff"/>
<rect x="591.3" y="111.2" width="12.0" height="20.0" rx="3" fill="#ff80ff"/>
<rect x="597.3" y="135.7" width="12.0" height="11.0" rx="3" fill="#ff80ff"/>
<rect x="612.8" y="126.7" width="13.0" height="20.0" rx="3" fill="#ff80ff"/>
<polygon points="622.0,150.8 630.3,150.8 636.1,155.3 639.9,144.4 647.6,144.4 657.2,152.1 657.8,168.1 652.1,170.0 646.9,166.1 642.5,169.3 636.1,169.3 627.1,162.3 622.0,158.5" fill="#ff80ff"/>
<path d="M0.0,0 V-6.0 M0.0,682.0 V687.5 M0,682.0 H-8.0 M975.3,682.0 H980.8 M139.3,0 V-15.0 M139.3,682.0 V695.0 M0,584.6 H-15.0 M975.3,584.6 H987.8 M278.7,0 V-6.0 M278.7,682.0 V687.5 M0,487.1 H-8.0 M975.3,487.1 H980.8 M418.0,0 V-15.0 M418.0,682.0 V695.0 M0,389.7 H-15.0 M975.3,389.7 H987.8 M557.3,0 V-6.0 M557.3,682.0 V687.5 M0,292.3 H-8.0 M975.3,292.3 H980.8 M696.6,0 V-15.0 M696.6,682.0 V695.0 M0,194.9 H-15.0 M975.3,194.9 H987.8 M836.0,0 V-6.0 M836.0,682.0 V687.5 M0,97.4 H-8.0 M975.3,97.4 H980.8 M975.3,0 V-15.0 M975.3,682.0 V695.0 M0,0.0 H-15.0 M975.3,0.0 H987.8" stroke="#111111" stroke-width="4.0" fill="none"/>
<rect x="0" y="0" width="975.3" height="682.0" fill="none" stroke="#111111" stroke-width="5.5"/>
<text x="139.3" y="741.5" text-anchor="middle" class="tl">0</text>
<text x="418.0" y="741.5" text-anchor="middle" class="tl">200</text>
<text x="696.6" y="741.5" text-anchor="middle" class="tl">400</text>
<text x="975.3" y="741.5" text-anchor="middle" class="tl">600</text>
<text x="-20.7" y="599.8" text-anchor="end" class="tl">0</text>
<text x="-20.7" y="404.9" text-anchor="end" class="tl">200</text>
<text x="-20.7" y="210.1" text-anchor="end" class="tl">400</text>
<text x="-20.7" y="15.2" text-anchor="end" class="tl">600</text>
</g>
<text x="365.1" y="1006.0" class="tt" textLength="151.0" lengthAdjust="spacingAndGlyphs">T=35S</text>
<g transform="translate(1311.5,928.2)">
<line x1="139.3" y1="0" x2="139.3" y2="682.0" stroke="#c4c4c4" stroke-width="2" stroke-dasharray="3.5 5.43"/>
<line x1="0" y1="584.6" x2="975.3" y2="584.6" stroke="#c4c4c4" stroke-width="2" stroke-dasharray="3.5 5.43"/>
<line x1="418.0" y1="0" x2="418.0" y2="682.0" stroke="#c4c4c4" stroke-width="2" stroke-dasharray="3.5 5.43"/>
<line x1="0" y1="389.7" x2="975.3" y2="389.7" stroke="#c4c4c4" stroke-width="2" stroke-dasharray="3.5 5.43"/>
<line x1="696.6" y1="0" x2="696.6" y2="682.0" stroke="#c4c4c4" stroke-width="2" stroke-dasharray="3.5 5.43"/>
<line x1="0" y1="194.9" x2="975.3" y2="194.9" stroke="#c4c4c4" stroke-width="2" stroke-dasharray="3.5 5.43"/>
<g clip-path="url(#clip)" fill="none" stroke-width="8" stroke-linejoin="round" stroke-linecap="butt">
<path d="M144.1,544.3 C145.3,543.0 148.3,539.2 151.2,536.3 C154.1,533.5 158.3,530.4 161.5,527.1 C164.7,523.8 167.7,519.6 170.4,516.7 C173.1,513.7 174.7,512.3 177.8,509.6 C180.9,506.8 185.3,503.5 189.1,500.3 C192.8,497.0 195.9,493.8 200.2,490.1 C204.6,486.3 210.9,481.4 215.1,477.9 C219.4,474.4 220.9,473.2 225.7,469.1 C230.5,465.1 235.0,460.7 243.8,453.5 C252.6,446.3 267.9,433.8 278.4,426.0 C288.8,418.1 283.3,422.5 306.5,406.4" stroke="#000000"/>
<path d="M306.5,406.4 C329.8,390.3 380.8,355.0 418.0,329.4 C455.1,303.8 506.1,268.9 529.4,252.8" stroke="#000000" stroke-width="5"/>
<path d="M529.4,252.8 C552.8,236.7 550.2,238.8 558.3,232.9 C566.4,226.9 571.4,222.4 578.2,217.3 C585.0,212.1 592.1,206.6 599.1,202.0 C606.1,197.3 613.1,192.5 620.2,189.3 C627.2,186.2 634.2,184.5 641.2,183.1 C648.1,181.7 654.8,181.4 661.8,180.9 C668.8,180.4 676.3,180.4 683.3,180.0 C690.2,179.7 696.8,179.6 703.6,178.8 C710.4,178.0 718.4,176.9 724.2,175.2 C730.0,173.5 734.2,171.0 738.4,168.6 C742.7,166.1 746.3,163.5 749.6,160.8 C752.8,158.0 755.2,155.6 757.9,152.0 C760.7,148.4 763.4,142.7 766.2,139.3 C769.0,136.0 770.7,134.9 774.7,132.0 C778.6,129.2 784.4,125.4 790.0,122.3 C795.6,119.2 802.9,116.2 808.1,113.5 C813.3,110.8 816.3,108.9 821.1,106.2 C825.8,103.5 831.7,100.2 836.5,97.1 C841.4,94.1 841.7,93.8 850.3,87.9" stroke="#000000"/>
<path d="M850.3,87.9 C858.9,81.9 874.9,70.5 888.2,61.4 C901.5,52.3 915.5,43.3 930.0,33.1 C944.5,23.0 966.4,6.9 975.3,0.5 C984.2,-5.9 982.3,-4.4 983.7,-5.4" stroke="#000000" stroke-width="5"/>
<path d="M139.3,567.5 C139.3,565.0 139.1,556.8 139.2,552.4 C139.3,548.0 139.1,544.7 139.9,541.2 C140.6,537.7 142.0,534.4 143.6,531.6 C145.3,528.7 146.9,526.6 149.5,524.1 C152.1,521.6 155.8,519.1 159.3,516.7 C162.7,514.2 166.1,512.1 170.4,509.2 C174.7,506.3 180.0,503.3 185.3,499.3 C190.6,495.3 196.5,490.4 202.0,485.2 C207.6,480.0 206.0,478.1 218.7,468.1" stroke="#80ffff"/>
<path d="M218.7,468.1 C231.5,458.2 245.2,448.7 278.4,425.6 C311.6,402.4 376.1,358.2 418.0,329.4 C459.8,300.6 507.4,268.1 529.4,252.8" stroke="#80ffff" stroke-width="5"/>
<path d="M529.4,252.8 C551.5,237.5 543.4,243.2 550.3,237.7 C557.3,232.3 563.1,225.7 571.2,220.2 C579.4,214.7 591.0,209.0 599.1,204.7 C607.3,200.3 613.1,196.6 620.2,194.1 C627.2,191.5 634.2,190.5 641.2,189.5 C648.1,188.5 654.8,188.5 661.8,188.0 C668.8,187.6 676.3,187.5 683.3,187.0 C690.2,186.5 697.3,185.8 703.6,185.1 C709.9,184.4 716.0,184.0 721.2,182.7 C726.4,181.4 730.2,179.6 734.8,177.2 C739.4,174.9 744.8,171.6 748.6,168.6 C752.5,165.5 755.0,161.7 757.9,158.8 C760.9,155.9 762.9,154.2 766.2,151.1 C769.4,148.0 773.4,143.8 777.5,140.3 C781.5,136.8 784.3,134.2 790.3,130.1 C796.3,125.9 806.3,120.2 813.5,115.5 C820.8,110.7 827.6,106.4 833.7,101.8 C839.9,97.2 841.2,94.6 850.3,87.9" stroke="#80ffff"/>
<path d="M850.3,87.9 C859.4,81.1 874.9,70.5 888.2,61.4 C901.5,52.3 915.5,43.3 930.0,33.1 C944.5,23.0 966.4,6.9 975.3,0.5 C984.2,-5.9 982.3,-4.4 983.7,-5.4" stroke="#80ffff" stroke-width="5"/>
<path d="M163.9,545.1 C166.2,544.3 173.0,541.9 177.8,540.4 C182.6,538.9 187.7,537.8 192.7,536.1 C197.7,534.3 203.3,532.1 207.6,530.1 C211.9,528.1 215.7,525.6 218.7,524.1 C221.8,522.5 222.6,522.5 225.7,520.8 C228.8,519.0 233.0,516.5 237.4,513.4" stroke="#00ff00"/>
<path d="M237.4,513.4 C241.9,510.4 245.5,507.5 252.3,502.7 C259.2,498.0 250.8,504.3 278.4,485.1 C306.0,465.9 371.3,419.8 418.0,387.7 C464.6,355.5 528.1,313.3 558.3,292.3 C588.5,271.2 588.8,268.9 599.1,261.3 C609.4,253.7 615.0,250.3 620.2,246.6" stroke="#00ff00" stroke-width="5"/>
<path d="M620.2,246.6 C625.3,242.9 626.3,241.8 629.8,239.2 C633.3,236.6 635.8,234.5 641.2,230.8 C646.5,227.2 654.8,221.4 661.8,217.3 C668.8,213.1 676.3,209.3 683.3,205.8 C690.2,202.3 696.7,199.5 703.6,196.3 C710.5,193.1 717.5,189.5 724.5,186.6 C731.5,183.7 738.5,181.1 745.4,178.8 C752.4,176.4 759.2,174.6 766.2,172.4 C773.1,170.3 780.2,167.9 787.2,165.6 C794.2,163.4 801.1,161.5 808.1,159.1 C815.1,156.7 822.0,154.1 829.0,151.0 C836.0,147.9 843.4,144.0 850.3,140.3 C857.3,136.6 861.7,134.3 870.8,129.1 C880.0,123.9 893.6,116.3 905.2,109.1" stroke="#00ff00"/>
<path d="M905.2,109.1 C916.8,101.9 928.8,93.4 940.5,85.7 C952.1,78.1 968.1,68.0 975.3,63.3 C982.5,58.7 982.3,58.9 983.7,58.0" stroke="#00ff00" stroke-width="5"/>
<path d="M139.6,588.0 C139.6,586.7 140.1,582.9 139.3,580.2 C138.5,577.5 137.0,574.2 134.7,571.8 C132.5,569.4 128.8,567.8 125.8,565.8 C122.8,563.8 119.1,562.0 116.8,559.8 C114.4,557.6 112.6,554.9 111.6,552.4 C110.6,549.9 110.4,547.6 110.5,544.9 C110.6,542.2 111.0,538.7 112.3,536.1 C113.6,533.5 116.0,531.3 118.3,529.3 C120.5,527.3 122.7,525.8 125.8,524.1 C128.9,522.3 133.2,520.5 137.0,518.9 C140.7,517.3 143.8,516.6 148.1,514.4 C152.4,512.2 158.1,508.7 163.0,505.7 C168.0,502.6 172.8,499.2 177.8,495.9 C182.7,492.6 187.7,489.2 192.7,485.9 C197.7,482.5 203.3,478.9 207.6,475.9 C211.9,473.0 206.9,476.5 218.7,468.1 C230.5,459.7 245.2,448.7 278.4,425.6 C311.6,402.4 376.1,358.2 418.0,329.4 C459.8,300.6 506.1,268.6 529.4,252.8 C552.8,237.0 550.2,239.4 558.3,234.5 C566.4,229.6 571.4,226.7 578.2,223.6 C585.0,220.5 592.1,218.3 599.1,215.7 C606.1,213.1 613.1,210.4 620.2,208.1 C627.2,205.9 634.2,203.8 641.2,202.2 C648.1,200.5 654.8,199.4 661.8,198.3 C668.8,197.1 676.3,196.4 683.3,195.3 C690.2,194.3 696.8,193.4 703.6,191.9 C710.4,190.5 718.0,188.9 724.2,186.5 C730.5,184.0 736.1,180.5 741.2,177.3 C746.4,174.2 751.0,171.1 755.2,167.6 C759.3,164.1 762.5,160.4 766.2,156.5 C769.9,152.6 773.5,148.0 777.5,144.2 C781.4,140.4 784.9,137.6 790.0,133.5 C795.1,129.3 801.6,124.4 808.1,119.4 C814.6,114.3 821.8,108.5 828.9,103.3 C835.9,98.0 840.4,94.9 850.3,87.9 C860.2,80.9 874.9,70.5 888.2,61.4 C901.5,52.3 915.5,43.3 930.0,33.1 C944.5,23.0 966.4,6.9 975.3,0.5 C984.2,-5.9 982.3,-4.4 983.7,-5.4" stroke="#ffb6de"/>
<path d="M162.5,564.7 C164.2,564.6 169.4,565.2 172.6,563.9 C175.8,562.7 178.2,559.9 181.5,557.3 C184.9,554.6 188.3,551.6 192.7,548.0 C197.0,544.5 202.6,539.9 207.6,536.1 C212.6,532.2 217.5,528.4 222.5,524.7 C227.5,520.9 232.4,517.1 237.4,513.4 C242.4,509.8 245.5,507.5 252.3,502.7 C259.2,498.0 250.8,504.3 278.4,485.1 C306.0,465.9 371.3,420.1 418.0,387.7 C464.6,355.2 528.1,311.4 558.3,290.3 C588.5,269.2 588.8,268.4 599.1,261.1 C609.4,253.8 613.1,251.0 620.2,246.6 C627.2,242.2 634.2,238.5 641.2,234.8 C648.1,231.1 654.8,227.9 661.8,224.6 C668.8,221.2 676.3,217.6 683.3,214.8 C690.2,212.1 696.8,210.2 703.6,208.0 C710.4,205.8 717.3,203.7 724.2,201.5 C731.2,199.3 738.4,197.2 745.4,194.9 C752.4,192.5 759.2,190.0 766.2,187.5 C773.1,184.9 780.2,182.4 787.2,179.8 C794.2,177.1 801.1,174.6 808.1,171.5 C815.1,168.3 822.0,164.8 829.0,160.8 C836.0,156.8 842.2,152.7 850.3,147.5 C858.4,142.3 868.6,136.0 877.8,129.6 C886.9,123.2 894.8,116.4 905.2,109.1 C915.7,101.8 928.8,93.4 940.5,85.7 C952.1,78.1 968.1,68.0 975.3,63.3 C982.5,58.7 982.3,58.9 983.7,58.0" stroke="#0000ff"/>
<path d="M165.2,584.5 C167.3,583.1 173.2,578.9 177.8,576.2 C182.4,573.4 187.7,570.4 192.7,568.0 C197.7,565.7 202.6,563.9 207.6,562.1 C212.6,560.2 217.5,558.5 222.5,556.9 C227.5,555.3 233.1,553.8 237.4,552.4 C241.7,551.0 243.4,550.5 248.4,548.6 C253.4,546.8 261.2,544.0 267.5,541.2 C273.9,538.4 280.1,535.5 286.5,532.0 C292.8,528.5 299.2,524.5 305.5,520.3 C311.9,516.0 318.3,511.2 324.6,506.6 C331.0,502.1 337.4,497.4 343.7,493.0 C350.1,488.6 356.3,484.5 362.7,480.3 C369.0,476.1 372.5,473.9 381.8,467.7 C391.0,461.4 398.0,456.5 418.0,442.8 C438.0,429.1 478.4,401.4 501.6,385.5 C524.8,369.6 537.6,360.9 557.3,347.4 C577.1,333.9 599.1,318.8 620.0,304.5 C640.9,290.1 667.6,271.8 682.7,261.5 C697.8,251.2 703.6,247.2 710.6,242.6 C717.5,238.0 719.9,236.5 724.5,233.8 C729.2,231.1 733.8,228.6 738.4,226.5 C743.1,224.4 747.7,222.9 752.4,221.2 C757.0,219.5 760.5,218.3 766.3,216.3 C772.1,214.3 780.2,211.3 787.2,209.0 C794.2,206.7 801.1,204.6 808.1,202.5 C815.1,200.3 822.0,198.2 829.0,195.8 C836.0,193.5 842.2,191.4 850.3,188.5 C858.4,185.6 868.6,182.2 877.8,178.3 C886.9,174.4 894.8,170.6 905.2,165.0 C915.7,159.5 928.8,152.2 940.5,145.2 C952.1,138.1 968.1,127.3 975.3,122.8 C982.5,118.2 982.3,118.7 983.7,117.9" stroke="#ff0000"/>
</g>
<polygon points="540.0,93.5 546.4,93.5 552.2,98.3 552.8,84.2 561.1,84.2 579.7,99.5 582.3,99.5 582.3,113.6 579.1,116.2 573.9,116.2 570.7,112.3 567.2,113.6 564.3,116.8 558.6,116.2 552.8,111.1 543.8,104.7 538.1,100.8" fill="#ff80ff"/>
<rect x="576.3" y="120.3" width="12.0" height="11.0" rx="3" fill="#ff80ff"/>
<rect x="591.3" y="111.2" width="12.0" height="20.0" rx="3" fill="#ff80ff"/>
<rect x="597.3" y="135.7" width="12.0" height="11.0" rx="3" fill="#ff80ff"/>
<rect x="612.8" y="126.7" width="13.0" height="20.0" rx="3" fill="#ff80ff"/>
<polygon points="622.1,152.8 630.8,152.8 636.0,155.7 639.6,144.7 647.7,144.7 657.9,152.8 665.2,157.2 668.2,161.6 666.0,168.9 665.2,173.3 657.9,174.0 653.5,170.4 649.9,172.5 643.3,174.0 636.0,169.6 628.7,163.0 622.1,157.2" fill="#ff80ff"/>
<rect x="677.8" y="170.4" width="10.0" height="8.0" rx="3" fill="#ff80ff"/>
<rect x="678.8" y="172.5" width="11.0" height="16.0" rx="3" fill="#ff80ff"/>
<rect x="661.2" y="180.0" width="11.0" height="9.0" rx="3" fill="#ff80ff"/>
<path d="M0.0,0 V-6.0 M0.0,682.0 V687.5 M0,682.0 H-8.0 M975.3,682.0 H980.8 M139.3,0 V-15.0 M139.3,682.0 V695.0 M0,584.6 H-15.0 M975.3,584.6 H987.8 M278.7,0 V-6.0 M278.7,682.0 V687.5 M0,487.1 H-8.0 M975.3,487.1 H980.8 M418.0,0 V-15.0 M418.0,682.0 V695.0 M0,389.7 H-15.0 M975.3,389.7 H987.8 M557.3,0 V-6.0 M557.3,682.0 V687.5 M0,292.3 H-8.0 M975.3,292.3 H980.8 M696.6,0 V-15.0 M696.6,682.0 V695.0 M0,194.9 H-15.0 M975.3,194.9 H987.8 M836.0,0 V-6.0 M836.0,682.0 V687.5 M0,97.4 H-8.0 M975.3,97.4 H980.8 M975.3,0 V-15.0 M975.3,682.0 V695.0 M0,0.0 H-15.0 M975.3,0.0 H987.8" stroke="#111111" stroke-width="4.0" fill="none"/>
<rect x="0" y="0" width="975.3" height="682.0" fill="none" stroke="#111111" stroke-width="5.5"/>
<text x="139.3" y="741.5" text-anchor="middle" class="tl">0</text>
<text x="418.0" y="741.5" text-anchor="middle" class="tl">200</text>
<text x="696.6" y="741.5" text-anchor="middle" class="tl">400</text>
<text x="975.3" y="741.5" text-anchor="middle" class="tl">600</text>
<text x="-20.7" y="599.8" text-anchor="end" class="tl">0</text>
<text x="-20.7" y="404.9" text-anchor="end" class="tl">200</text>
<text x="-20.7" y="210.1" text-anchor="end" class="tl">400</text>
<text x="-20.7" y="15.2" text-anchor="end" class="tl">600</text>
</g>
<text x="1412.4" y="1075.1" class="tt" textLength="151.5" lengthAdjust="spacingAndGlyphs">T=50S</text>
<text transform="translate(66.2,550.5) rotate(-90)" class="at"><tspan font-style="italic">y</tspan>/(m)</text>
<text transform="translate(69.0,1343.0) rotate(-90)" class="at"><tspan font-style="italic">y</tspan>/(m)</text>
<text x="616.2" y="1757.3" class="at"><tspan font-style="italic">x</tspan>/(m)</text>
<text x="1730.3" y="1757.3" class="at"><tspan font-style="italic">x</tspan>/(m)</text>
</svg>
</body></html>
